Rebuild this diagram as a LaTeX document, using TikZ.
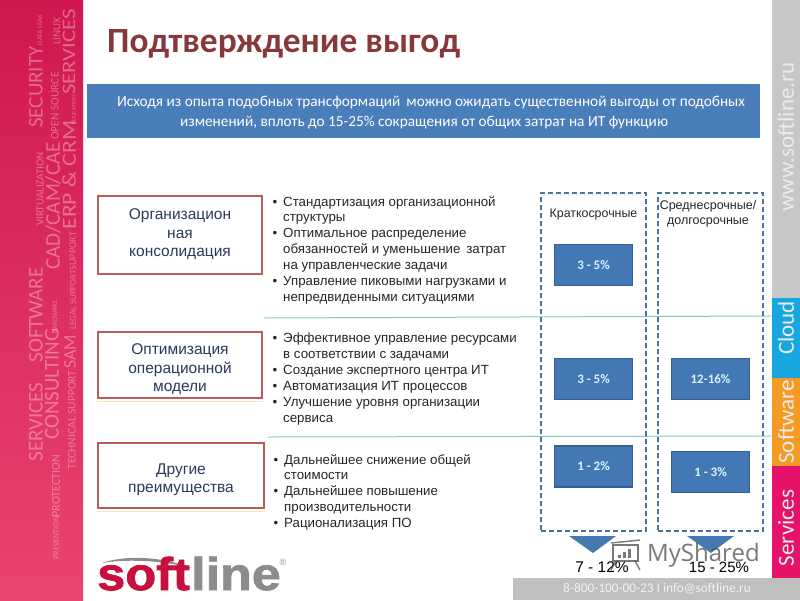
\documentclass[tikz,border=0pt]{standalone}
\usepackage{fontspec}
\setmainfont{Liberation Sans}
\newfontfamily\carlito{Carlito}
\newfontfamily\opensans{Open Sans}
\newfontfamily\logofont[FakeBold=1.6]{Liberation Sans Bold}
\usetikzlibrary{positioning}
\definecolor{stripetop}{HTML}{D0174F}
\definecolor{stripebot}{HTML}{EA4470}
\definecolor{bannerblue}{HTML}{4A7EBB}
\definecolor{boxblue}{HTML}{4478B4}
\definecolor{edgeblue}{HTML}{35608F}
\definecolor{dashblue}{HTML}{4A739F}
\definecolor{redline}{HTML}{BC5A5A}
\definecolor{navytext}{HTML}{2A3A5A}
\definecolor{titlered}{HTML}{86383A}
\definecolor{softred}{HTML}{C8103F}
\definecolor{softgray}{HTML}{8C8C8C}
\definecolor{cloudblue}{HTML}{16A6E0}
\definecolor{softorange}{HTML}{F59A23}
\definecolor{servpink}{HTML}{E6126A}
\newcommand{\fsz}[1]{\fontsize{#1}{#1}\selectfont}
\newcommand{\mybullet}{\makebox[0pt][r]{\textbullet\hspace{6pt}}}
\tikzset{
  sidebox/.style = {draw=redline, line width=2pt, fill=white, minimum width=164pt, align=center, font=\fsz{15.5}, text=navytext},
  listtext/.style = {anchor=north west, inner sep=0pt, align=left, font=\fontsize{13.3}{15.9}\selectfont, text=black!85},
  valbox/.style = {draw=edgeblue, line width=1.2pt, fill=boxblue, minimum width=78pt, minimum height=41pt, text=white!85!cyan, font=\carlito\bfseries\fsz{13}},
  termbox/.style = {draw=dashblue, dash pattern=on 5pt off 3pt, line width=2pt},
  wordmark/.style = {rotate=90, text=white, opacity=.34, inner sep=0pt, font=\carlito},
  stripe/.style = {rotate=90, text=white!85!gray, inner sep=0pt, font=\carlito\fsz{23}},
  divline/.style = {draw=teal!45, line width=1pt},
  peachline/.style = {draw=orange!25, line width=1pt}
}
\begin{document}
\begin{tikzpicture}[x=1pt, y=-1pt]
    \useasboundingbox (0,0) rectangle (800,600);
    %Left strip
    \shade[top color=stripetop, bottom color=stripebot] (0,0) rectangle (83,600);
    \node[wordmark, font=\carlito\fsz{21}] (w1) at (36,87) {SECURITY};
    \node[wordmark, font=\carlito\fsz{7}] (w2) at (40,30) {DATA LEAK};
    \node[wordmark, font=\carlito\fsz{11}] (w3) at (40,189) {VIRTUALIZATION};
    \node[wordmark, font=\carlito\fsz{21}] (w4) at (36,315) {SOFTWARE};
    \node[wordmark, font=\carlito\fsz{21}] (w5) at (36,422) {SERVICES};
    \node[wordmark, font=\carlito\fsz{11}] (w6) at (57,31) {LINUX};
    \node[wordmark, font=\carlito\fsz{11.5}] (w7) at (55,106) {OPEN SOURCE};
    \node[wordmark, font=\carlito\fsz{21}] (w8) at (53,206) {CAD/CAM/CAE};
    \node[wordmark, font=\carlito\fsz{7}] (w9) at (55,317) {HARDWARE};
    \node[wordmark, font=\carlito\fsz{21}] (w10) at (52,384) {CONSULTING};
    \node[wordmark, font=\carlito\fsz{12}] (w11) at (56,486) {PROTECTION};
    \node[wordmark, font=\carlito\fsz{8}] (w12) at (56,538) {PREVENTION};
    \node[wordmark, font=\carlito\fsz{19}] (w13) at (69,52) {\scalebox{1.2}[1]{SERVICES}};
    \node[wordmark, font=\carlito\fsz{6}] (w14) at (74,110) {EDUCATION};
    \node[wordmark, font=\carlito\fsz{20}] (w15) at (69,175) {\scalebox{1.18}[1]{ERP \& CRM}};
    \node[wordmark, font=\carlito\fsz{10}] (w16) at (73,251) {SUPPORT};
    \node[wordmark, font=\carlito\fsz{9}] (w17) at (73,300) {LEGAL SUPPORT};
    \node[wordmark, font=\carlito\fsz{18}] (w18) at (70,352) {SAM};
    \node[wordmark, font=\carlito\fsz{11.5}] (w19) at (72,420) {TECHNICAL SUPPORT};
    %Right strip
    \fill[black!22] (772,0) rectangle (800,298);
    \fill[cloudblue] (772,298) rectangle (800,378);
    \fill[softorange] (772,378) rectangle (800,466);
    \fill[servpink] (772,466) rectangle (800,578);
    \fill[black!25] (513,578) rectangle (800,600);
    \node[stripe] (site) at (786,137) {www.softline.ru};
    \node[stripe] (cloud) at (786,328) {Cloud};
    \node[stripe] (software) at (786,422) {Software};
    \node[stripe] (services) at (786,528) {Services};
    \node[text=white!90!gray, font=\carlito\fsz{13.3}] (contact) at (657,589) {8-800-100-00-23 I info@softline.ru};
    %Title and banner
    \node[anchor=west, inner sep=0pt, text=titlered, font=\carlito\bfseries\fsz{35.4}] (title) at (107,44) {Подтверждение выгод};
    \node[fill=bannerblue, minimum width=673pt, minimum height=54pt, inner sep=0pt] (banner) at (423.5,111) {};
    \node[text=white, align=center, inner sep=0pt, font=\carlito\fontsize{15.3}{20}\selectfont] (bannertext) at (424,113)
      {\hspace*{14pt}Исходя из опыта подобных трансформаций\, можно ожидать существенной выгоды от подобных\\ изменений, вплоть до 15-25\% сокращения от общих затрат на ИТ функцию};
    %Dividers
    \coordinate (d1) at (264,318);
    \coordinate (d2) at (771,316);
    \coordinate (d3) at (268,437);
    \coordinate (d4) at (771,436);
    \coordinate (d5) at (97,511);
    \coordinate (d6) at (265,511);
    \coordinate (d7) at (97,401);
    \coordinate (d8) at (263,401);
    \draw[divline] (d1) -- (d2);
    \draw[divline] (d3) -- (d4);
    \draw[peachline] (d5) -- (d6);
    \draw[peachline] (d7) -- (d8);
    %Left boxes
    \node[sidebox, minimum height=78pt] (org) at (180,235) {Организацион\\[3pt]ная\\[3pt]консолидация\rule[-4pt]{0pt}{0pt}};
    \node[sidebox, minimum height=66pt] (opt) at (180,365) {\rule{0pt}{19.5pt}Оптимизация\\[3pt]операционной\\[3pt]модели};
    \node[sidebox, minimum width=166pt, minimum height=65pt] (other) at (181,475.5) {\rule{0pt}{19.5pt}Другие\\[3pt]преимущества};
    %Lists
    \node[listtext] (list1) at (283,196) {\mybullet Стандартизация организационной\\структуры\\\mybullet Оптимальное распределение\\обязанностей и уменьшение\, затрат\\на управленческие задачи\\\mybullet Управление пиковыми нагрузками и\\непредвиденными ситуациями};
    \node[listtext] (list2) at (283,333) {\mybullet Эффективное управление ресурсами\\в соответствии с задачами\\\mybullet Создание экспертного центра ИТ\\\mybullet Автоматизация ИТ процессов\\\mybullet Улучшение уровня организации\\сервиса};
    \node[listtext] (list3) at (284,454) {\mybullet Дальнейшее снижение общей\\стоимости\\\mybullet Дальнейшее повышение\\производительности\\\mybullet Рационализация ПО};
    %Terms
    \node[termbox, minimum width=105pt, minimum height=338pt] (short) at (593.5,361.5) {};
    \node[termbox, minimum width=105pt, minimum height=338pt] (long) at (710.5,361.5) {};
    \node[align=center, font=\fsz{12.4}, text=black!85] (shortlabel) at (593.5,215) {Краткосрочные};
    \node[align=center, font=\fontsize{12.5}{15}\selectfont, text=black!85] (longlabel) at (708,214) {Среднесрочные/\\долгосрочные};
    \node[valbox] (s1) at (593.5,265) {3 - 5\%};
    \node[valbox] (s2) at (593.5,379) {3 - 5\%};
    \node[valbox] (s3) at (593.5,466.5) {1 - 2\%};
    \node[valbox] (l2) at (710.5,379) {12-16\%};
    \node[valbox] (l3) at (710.5,472) {1 - 3\%};
    %Totals
    \fill[bannerblue!95!black] (569,536) -- (616,536) -- (593,553) -- cycle;
    \fill[bannerblue!95!black] (687,536) -- (734,536) -- (711,553) -- cycle;
    \node[font=\fsz{15.5}] (total1) at (602,567) {7 - 12\%};
    \node[font=\fsz{15}] (total2) at (719,567) {15 - 25\%};
    %Watermark
    \begin{scope}[black!70, opacity=.75]
      \draw[line width=1.4pt] (613,545) rectangle (638,561);
      \draw[line width=1.4pt] (611,543) -- (640,540);
      \draw[line width=1.4pt] (616,561) -- (611,570);
      \draw[line width=1.4pt] (635,561) -- (640,570);
      \fill (618,555) rectangle (621,558);
      \fill (623,552) rectangle (626,558);
      \fill (628,549) rectangle (631,558);
      \node[anchor=west, inner sep=0pt, font=\opensans\fsz{24}] (mark) at (647,555) {MyShared};
    \end{scope}
    %Logo
    \fill[softgray] (102,563) .. controls (125,555) and (160,556) .. (192,568) .. controls (160,560) and (125,559) .. (102,563) -- cycle;
    \node[anchor=base west, inner sep=0pt, text=softred, font=\logofont\fsz{46}] (soft) at (97,590) {\scalebox{1.1}[1]{soft}};
    \node[anchor=base west, inner sep=0pt, text=softgray, font=\logofont\fsz{46}] (line) at (191,590) {\scalebox{1.13}[1]{line}};
    \node[text=softgray, inner sep=0pt, font=\fsz{9}] (reg) at (283,562) {®};
\end{tikzpicture}
\end{document}
